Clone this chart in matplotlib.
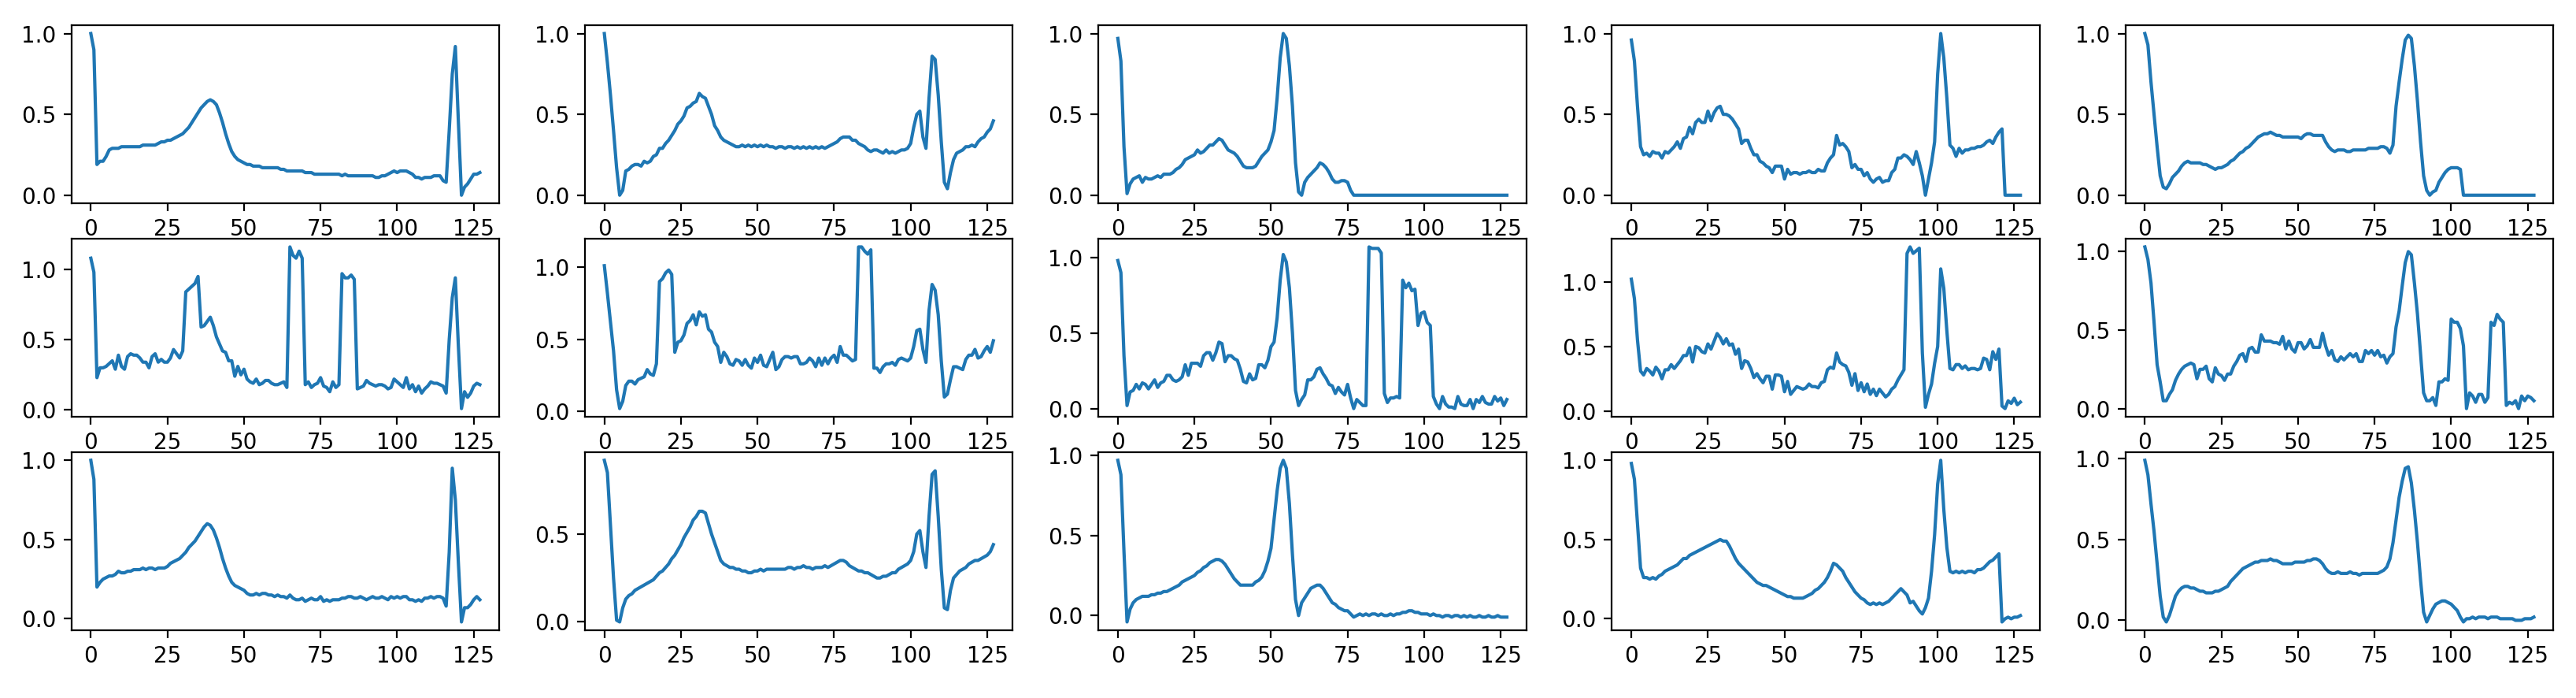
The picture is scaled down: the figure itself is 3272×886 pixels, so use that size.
import matplotlib
matplotlib.use("Agg")
import matplotlib.pyplot as plt
import numpy as np

# row 1: original beats
orig_a = [1.00, 0.90, 0.19, 0.21, 0.21, 0.24, 0.28, 0.29, 0.29, 0.29, 0.30, 0.30, 0.30, 0.30, 0.30, 0.30,
          0.30, 0.31, 0.31, 0.31, 0.31, 0.31, 0.32, 0.33, 0.33, 0.34, 0.34, 0.35, 0.36, 0.37, 0.38, 0.40,
          0.42, 0.45, 0.48, 0.51, 0.54, 0.56, 0.58, 0.59, 0.58, 0.56, 0.51, 0.45, 0.38, 0.32, 0.27, 0.24,
          0.22, 0.21, 0.20, 0.19, 0.19, 0.18, 0.18, 0.18, 0.17, 0.17, 0.17, 0.17, 0.17, 0.17, 0.16, 0.16,
          0.15, 0.15, 0.15, 0.15, 0.15, 0.15, 0.14, 0.14, 0.14, 0.13, 0.13, 0.13, 0.13, 0.13, 0.13, 0.13,
          0.13, 0.13, 0.12, 0.13, 0.12, 0.12, 0.12, 0.12, 0.12, 0.12, 0.12, 0.12, 0.12, 0.11, 0.11, 0.12,
          0.12, 0.13, 0.14, 0.15, 0.14, 0.15, 0.15, 0.15, 0.14, 0.13, 0.11, 0.11, 0.10, 0.11, 0.11, 0.11,
          0.12, 0.12, 0.12, 0.09, 0.08, 0.40, 0.75, 0.92, 0.45, 0.00, 0.05, 0.07, 0.10, 0.13, 0.13, 0.14]
orig_b = [1.00, 0.82, 0.62, 0.40, 0.17, 0.00, 0.03, 0.15, 0.16, 0.18, 0.19, 0.19, 0.18, 0.21, 0.20, 0.21,
          0.24, 0.25, 0.29, 0.29, 0.32, 0.34, 0.37, 0.40, 0.44, 0.46, 0.49, 0.54, 0.55, 0.57, 0.58, 0.63,
          0.61, 0.60, 0.55, 0.50, 0.43, 0.40, 0.36, 0.34, 0.33, 0.32, 0.31, 0.30, 0.30, 0.31, 0.30, 0.31,
          0.30, 0.31, 0.30, 0.31, 0.30, 0.31, 0.30, 0.30, 0.29, 0.30, 0.30, 0.29, 0.30, 0.30, 0.29, 0.30,
          0.29, 0.30, 0.29, 0.30, 0.29, 0.30, 0.29, 0.30, 0.29, 0.30, 0.31, 0.32, 0.33, 0.35, 0.36, 0.36,
          0.36, 0.34, 0.34, 0.32, 0.31, 0.30, 0.28, 0.27, 0.28, 0.28, 0.27, 0.26, 0.28, 0.26, 0.27, 0.26,
          0.27, 0.28, 0.28, 0.29, 0.32, 0.42, 0.50, 0.52, 0.36, 0.29, 0.60, 0.86, 0.84, 0.62, 0.33, 0.08,
          0.04, 0.14, 0.22, 0.26, 0.27, 0.28, 0.30, 0.30, 0.31, 0.30, 0.33, 0.35, 0.36, 0.39, 0.41, 0.46]
orig_c = [0.97, 0.83, 0.30, 0.01, 0.07, 0.10, 0.11, 0.12, 0.08, 0.11, 0.10, 0.10, 0.11, 0.12, 0.11, 0.13,
          0.13, 0.13, 0.14, 0.16, 0.17, 0.19, 0.22, 0.23, 0.24, 0.25, 0.28, 0.26, 0.27, 0.29, 0.31, 0.31,
          0.33, 0.35, 0.34, 0.31, 0.28, 0.27, 0.26, 0.24, 0.21, 0.18, 0.17, 0.17, 0.17, 0.18, 0.21, 0.24,
          0.26, 0.28, 0.33, 0.40, 0.60, 0.85, 1.00, 0.97, 0.80, 0.55, 0.20, 0.02, 0.00, 0.08, 0.11, 0.13,
          0.15, 0.17, 0.20, 0.19, 0.17, 0.14, 0.10, 0.08, 0.08, 0.09, 0.09, 0.08, 0.03, 0.00, 0.00, 0.00,
          0.00, 0.00, 0.00, 0.00, 0.00, 0.00, 0.00, 0.00, 0.00, 0.00, 0.00, 0.00, 0.00, 0.00, 0.00, 0.00,
          0.00, 0.00, 0.00, 0.00, 0.00, 0.00, 0.00, 0.00, 0.00, 0.00, 0.00, 0.00, 0.00, 0.00, 0.00, 0.00,
          0.00, 0.00, 0.00, 0.00, 0.00, 0.00, 0.00, 0.00, 0.00, 0.00, 0.00, 0.00, 0.00, 0.00, 0.00, 0.00]
orig_d = [0.96, 0.83, 0.55, 0.30, 0.25, 0.26, 0.24, 0.27, 0.26, 0.26, 0.23, 0.27, 0.26, 0.28, 0.30, 0.33,
          0.29, 0.35, 0.36, 0.42, 0.38, 0.45, 0.47, 0.45, 0.45, 0.52, 0.46, 0.51, 0.54, 0.55, 0.50, 0.50,
          0.49, 0.47, 0.44, 0.41, 0.32, 0.34, 0.34, 0.29, 0.25, 0.25, 0.21, 0.20, 0.18, 0.17, 0.14, 0.18,
          0.18, 0.18, 0.10, 0.16, 0.13, 0.14, 0.14, 0.13, 0.14, 0.14, 0.15, 0.14, 0.14, 0.16, 0.15, 0.15,
          0.20, 0.23, 0.25, 0.37, 0.31, 0.32, 0.30, 0.27, 0.17, 0.19, 0.16, 0.16, 0.12, 0.14, 0.10, 0.08,
          0.10, 0.11, 0.08, 0.09, 0.09, 0.14, 0.16, 0.23, 0.23, 0.25, 0.24, 0.22, 0.19, 0.27, 0.20, 0.12,
          0.00, 0.10, 0.20, 0.33, 0.75, 1.00, 0.85, 0.60, 0.31, 0.29, 0.24, 0.29, 0.26, 0.28, 0.28, 0.29,
          0.29, 0.30, 0.30, 0.31, 0.33, 0.34, 0.32, 0.36, 0.39, 0.41, 0.00, 0.00, 0.00, 0.00, 0.00, 0.00]
orig_e = [1.00, 0.93, 0.70, 0.50, 0.30, 0.12, 0.05, 0.04, 0.07, 0.11, 0.13, 0.15, 0.18, 0.20, 0.21, 0.20,
          0.20, 0.20, 0.20, 0.19, 0.19, 0.18, 0.17, 0.16, 0.17, 0.17, 0.18, 0.19, 0.21, 0.22, 0.24, 0.26,
          0.27, 0.29, 0.30, 0.32, 0.34, 0.36, 0.37, 0.38, 0.38, 0.39, 0.38, 0.37, 0.37, 0.36, 0.36, 0.36,
          0.36, 0.36, 0.36, 0.35, 0.37, 0.38, 0.38, 0.37, 0.37, 0.37, 0.37, 0.33, 0.30, 0.28, 0.27, 0.28,
          0.28, 0.28, 0.27, 0.27, 0.28, 0.28, 0.28, 0.28, 0.28, 0.29, 0.29, 0.29, 0.29, 0.30, 0.30, 0.29,
          0.26, 0.31, 0.55, 0.70, 0.84, 0.96, 0.99, 0.97, 0.80, 0.58, 0.33, 0.12, 0.03, 0.00, 0.02, 0.03,
          0.08, 0.11, 0.14, 0.16, 0.17, 0.17, 0.17, 0.16, 0.00, 0.00, 0.00, 0.00, 0.00, 0.00, 0.00, 0.00,
          0.00, 0.00, 0.00, 0.00, 0.00, 0.00, 0.00, 0.00, 0.00, 0.00, 0.00, 0.00, 0.00, 0.00, 0.00, 0.00]

# row 2: noisy / augmented beats
noisy_a = [1.08, 0.98, 0.23, 0.30, 0.30, 0.31, 0.33, 0.35, 0.29, 0.39, 0.31, 0.29, 0.38, 0.40, 0.39, 0.39,
           0.37, 0.34, 0.34, 0.30, 0.38, 0.40, 0.34, 0.36, 0.34, 0.34, 0.37, 0.43, 0.40, 0.37, 0.42, 0.84,
           0.86, 0.88, 0.90, 0.95, 0.59, 0.60, 0.63, 0.66, 0.60, 0.52, 0.47, 0.42, 0.41, 0.35, 0.35, 0.24,
           0.31, 0.25, 0.29, 0.22, 0.20, 0.19, 0.22, 0.18, 0.19, 0.21, 0.21, 0.19, 0.18, 0.18, 0.19, 0.20,
           0.16, 1.16, 1.10, 1.08, 1.13, 1.08, 0.18, 0.20, 0.16, 0.18, 0.19, 0.23, 0.17, 0.16, 0.13, 0.20,
           0.16, 0.18, 0.97, 0.94, 0.94, 0.96, 0.93, 0.15, 0.16, 0.17, 0.21, 0.19, 0.18, 0.17, 0.18, 0.18,
           0.17, 0.15, 0.16, 0.22, 0.20, 0.18, 0.16, 0.23, 0.15, 0.18, 0.13, 0.17, 0.12, 0.15, 0.17, 0.20,
           0.19, 0.19, 0.18, 0.17, 0.12, 0.50, 0.80, 0.94, 0.45, 0.01, 0.13, 0.09, 0.12, 0.17, 0.19, 0.18]
noisy_b = [1.01, 0.82, 0.62, 0.42, 0.15, 0.02, 0.07, 0.18, 0.21, 0.21, 0.19, 0.22, 0.23, 0.24, 0.29, 0.26,
           0.25, 0.33, 0.90, 0.92, 0.96, 0.98, 0.95, 0.41, 0.48, 0.49, 0.53, 0.61, 0.63, 0.67, 0.60, 0.69,
           0.66, 0.67, 0.57, 0.55, 0.48, 0.45, 0.34, 0.41, 0.38, 0.33, 0.32, 0.36, 0.35, 0.32, 0.36, 0.32,
           0.30, 0.37, 0.34, 0.39, 0.32, 0.31, 0.36, 0.41, 0.29, 0.31, 0.36, 0.38, 0.38, 0.37, 0.38, 0.38,
           0.33, 0.33, 0.34, 0.37, 0.35, 0.31, 0.37, 0.32, 0.37, 0.33, 0.37, 0.39, 0.34, 0.45, 0.39, 0.39,
           0.37, 0.35, 0.36, 1.14, 1.14, 1.11, 1.09, 1.12, 0.30, 0.30, 0.27, 0.31, 0.33, 0.33, 0.34, 0.32,
           0.36, 0.37, 0.36, 0.35, 0.37, 0.45, 0.56, 0.57, 0.43, 0.34, 0.70, 0.88, 0.84, 0.67, 0.35, 0.10,
           0.12, 0.22, 0.31, 0.31, 0.30, 0.29, 0.36, 0.39, 0.39, 0.43, 0.37, 0.38, 0.42, 0.45, 0.41, 0.49]
noisy_c = [0.98, 0.90, 0.35, 0.02, 0.11, 0.12, 0.16, 0.13, 0.17, 0.16, 0.13, 0.16, 0.19, 0.14, 0.17, 0.18,
           0.22, 0.22, 0.19, 0.18, 0.19, 0.21, 0.29, 0.22, 0.30, 0.30, 0.30, 0.28, 0.35, 0.37, 0.37, 0.32,
           0.37, 0.44, 0.43, 0.31, 0.35, 0.35, 0.33, 0.32, 0.26, 0.18, 0.17, 0.23, 0.19, 0.20, 0.29, 0.29,
           0.27, 0.32, 0.41, 0.44, 0.60, 0.85, 1.02, 0.97, 0.80, 0.50, 0.12, 0.02, 0.06, 0.09, 0.19, 0.19,
           0.21, 0.26, 0.27, 0.23, 0.20, 0.16, 0.15, 0.10, 0.14, 0.11, 0.09, 0.16, 0.07, 0.00, 0.06, 0.04,
           0.02, 0.02, 1.07, 1.06, 1.06, 1.06, 1.03, 0.10, 0.04, 0.07, 0.07, 0.08, 0.07, 0.85, 0.80, 0.83,
           0.78, 0.79, 0.55, 0.63, 0.64, 0.57, 0.55, 0.08, 0.03, 0.00, 0.08, 0.03, 0.01, 0.01, 0.00, 0.08,
           0.03, 0.02, 0.02, 0.06, 0.00, 0.06, 0.04, 0.08, 0.04, 0.03, 0.03, 0.08, 0.05, 0.07, 0.02, 0.06]
noisy_d = [1.02, 0.87, 0.55, 0.31, 0.28, 0.33, 0.31, 0.28, 0.34, 0.31, 0.25, 0.32, 0.32, 0.36, 0.33, 0.36,
           0.39, 0.43, 0.43, 0.49, 0.38, 0.50, 0.49, 0.46, 0.45, 0.52, 0.48, 0.54, 0.60, 0.57, 0.52, 0.56,
           0.51, 0.52, 0.44, 0.48, 0.33, 0.39, 0.38, 0.33, 0.26, 0.29, 0.25, 0.22, 0.27, 0.27, 0.17, 0.28,
           0.28, 0.27, 0.15, 0.23, 0.13, 0.16, 0.19, 0.18, 0.17, 0.18, 0.21, 0.19, 0.19, 0.18, 0.22, 0.23,
           0.32, 0.34, 0.33, 0.45, 0.38, 0.36, 0.35, 0.30, 0.20, 0.29, 0.16, 0.22, 0.15, 0.21, 0.13, 0.17,
           0.12, 0.17, 0.14, 0.11, 0.13, 0.17, 0.19, 0.24, 0.28, 0.32, 1.22, 1.27, 1.22, 1.24, 1.26, 0.45,
           0.03, 0.13, 0.21, 0.37, 0.50, 1.10, 0.95, 0.62, 0.33, 0.32, 0.36, 0.36, 0.33, 0.35, 0.32, 0.33,
           0.33, 0.32, 0.33, 0.41, 0.40, 0.32, 0.46, 0.40, 0.48, 0.04, 0.02, 0.08, 0.06, 0.10, 0.05, 0.07]
noisy_e = [1.03, 0.95, 0.80, 0.55, 0.28, 0.17, 0.05, 0.05, 0.09, 0.12, 0.18, 0.22, 0.25, 0.27, 0.28, 0.29,
           0.28, 0.19, 0.25, 0.25, 0.27, 0.19, 0.17, 0.26, 0.22, 0.21, 0.18, 0.22, 0.22, 0.27, 0.30, 0.34,
           0.35, 0.30, 0.38, 0.39, 0.36, 0.36, 0.47, 0.43, 0.43, 0.43, 0.42, 0.42, 0.41, 0.46, 0.38, 0.43,
           0.38, 0.36, 0.42, 0.42, 0.38, 0.40, 0.44, 0.39, 0.39, 0.39, 0.48, 0.40, 0.34, 0.37, 0.31, 0.30,
           0.33, 0.31, 0.33, 0.35, 0.33, 0.35, 0.30, 0.30, 0.37, 0.35, 0.37, 0.34, 0.37, 0.33, 0.34, 0.29,
           0.33, 0.35, 0.52, 0.62, 0.78, 0.93, 1.00, 0.98, 0.80, 0.60, 0.35, 0.10, 0.05, 0.05, 0.07, 0.02,
           0.17, 0.17, 0.19, 0.18, 0.57, 0.55, 0.55, 0.51, 0.40, 0.00, 0.10, 0.08, 0.04, 0.09, 0.09, 0.04,
           0.07, 0.55, 0.53, 0.60, 0.57, 0.55, 0.02, 0.04, 0.03, 0.05, 0.00, 0.08, 0.05, 0.08, 0.07, 0.05]

# row 3: reconstructed beats
recon_a = [1.00, 0.88, 0.20, 0.23, 0.25, 0.26, 0.27, 0.27, 0.28, 0.30, 0.29, 0.29, 0.30, 0.30, 0.31, 0.31,
           0.31, 0.32, 0.31, 0.32, 0.32, 0.31, 0.32, 0.32, 0.32, 0.33, 0.35, 0.36, 0.37, 0.38, 0.40, 0.42,
           0.45, 0.47, 0.49, 0.52, 0.55, 0.58, 0.60, 0.59, 0.56, 0.51, 0.45, 0.38, 0.32, 0.27, 0.23, 0.21,
           0.20, 0.19, 0.18, 0.16, 0.15, 0.15, 0.16, 0.15, 0.16, 0.16, 0.15, 0.15, 0.14, 0.15, 0.14, 0.14,
           0.13, 0.15, 0.13, 0.12, 0.12, 0.13, 0.11, 0.12, 0.13, 0.12, 0.12, 0.14, 0.11, 0.12, 0.11, 0.12,
           0.12, 0.12, 0.13, 0.13, 0.14, 0.14, 0.13, 0.13, 0.14, 0.13, 0.12, 0.13, 0.14, 0.13, 0.13, 0.14,
           0.13, 0.12, 0.14, 0.13, 0.14, 0.13, 0.14, 0.14, 0.12, 0.12, 0.11, 0.12, 0.11, 0.13, 0.13, 0.14,
           0.13, 0.14, 0.14, 0.13, 0.08, 0.42, 0.95, 0.75, 0.35, -0.02, 0.07, 0.07, 0.09, 0.12, 0.14, 0.12]
recon_b = [0.92, 0.85, 0.55, 0.25, 0.01, 0.00, 0.08, 0.13, 0.15, 0.16, 0.18, 0.19, 0.20, 0.21, 0.22, 0.23,
           0.24, 0.26, 0.28, 0.29, 0.31, 0.33, 0.36, 0.38, 0.41, 0.44, 0.48, 0.51, 0.54, 0.58, 0.60, 0.63,
           0.63, 0.62, 0.56, 0.50, 0.45, 0.40, 0.35, 0.33, 0.32, 0.31, 0.31, 0.30, 0.30, 0.29, 0.29, 0.28,
           0.28, 0.29, 0.29, 0.30, 0.29, 0.30, 0.30, 0.30, 0.30, 0.30, 0.30, 0.30, 0.31, 0.31, 0.30, 0.31,
           0.31, 0.32, 0.31, 0.31, 0.30, 0.31, 0.31, 0.31, 0.32, 0.31, 0.32, 0.33, 0.34, 0.35, 0.35, 0.34,
           0.32, 0.31, 0.30, 0.29, 0.29, 0.28, 0.28, 0.27, 0.26, 0.25, 0.25, 0.26, 0.26, 0.27, 0.28, 0.28,
           0.30, 0.31, 0.32, 0.33, 0.35, 0.40, 0.50, 0.52, 0.40, 0.31, 0.60, 0.84, 0.86, 0.60, 0.30, 0.08,
           0.07, 0.18, 0.25, 0.27, 0.29, 0.30, 0.31, 0.33, 0.34, 0.35, 0.35, 0.36, 0.37, 0.38, 0.40, 0.44]
recon_c = [0.97, 0.88, 0.40, -0.04, 0.04, 0.08, 0.10, 0.11, 0.12, 0.12, 0.12, 0.13, 0.13, 0.14, 0.14, 0.15,
           0.15, 0.16, 0.17, 0.18, 0.19, 0.21, 0.22, 0.23, 0.24, 0.25, 0.27, 0.28, 0.30, 0.31, 0.33, 0.34,
           0.35, 0.35, 0.34, 0.32, 0.29, 0.26, 0.23, 0.21, 0.19, 0.19, 0.19, 0.19, 0.19, 0.21, 0.22, 0.24,
           0.28, 0.34, 0.42, 0.60, 0.78, 0.92, 0.97, 0.92, 0.70, 0.38, 0.10, 0.00, 0.08, 0.11, 0.14, 0.17,
           0.18, 0.19, 0.19, 0.17, 0.14, 0.11, 0.08, 0.07, 0.05, 0.04, 0.03, 0.03, 0.01, -0.01, 0.00, 0.01,
           0.00, 0.01, 0.00, 0.01, 0.01, 0.00, 0.01, 0.00, 0.00, 0.01, 0.00, 0.01, 0.01, 0.02, 0.02, 0.03,
           0.03, 0.02, 0.02, 0.01, 0.01, 0.01, 0.00, 0.01, 0.00, 0.00, -0.01, 0.00, 0.00, -0.01, 0.00, 0.00,
           -0.01, 0.00, -0.01, 0.00, -0.01, -0.01, 0.00, -0.01, -0.01, 0.00, -0.01, -0.01, 0.00, -0.01, -0.01, -0.01]
recon_d = [0.98, 0.88, 0.60, 0.32, 0.26, 0.26, 0.25, 0.26, 0.25, 0.27, 0.28, 0.30, 0.31, 0.32, 0.33, 0.34,
           0.36, 0.38, 0.38, 0.40, 0.41, 0.42, 0.43, 0.44, 0.45, 0.46, 0.47, 0.48, 0.49, 0.50, 0.49, 0.49,
           0.46, 0.42, 0.38, 0.35, 0.33, 0.31, 0.29, 0.27, 0.25, 0.23, 0.22, 0.21, 0.21, 0.20, 0.19, 0.18,
           0.17, 0.16, 0.15, 0.14, 0.14, 0.13, 0.13, 0.13, 0.13, 0.14, 0.15, 0.16, 0.18, 0.19, 0.21, 0.23,
           0.26, 0.30, 0.35, 0.34, 0.32, 0.30, 0.26, 0.23, 0.20, 0.17, 0.15, 0.13, 0.12, 0.10, 0.09, 0.10,
           0.09, 0.10, 0.09, 0.10, 0.11, 0.13, 0.15, 0.17, 0.19, 0.17, 0.15, 0.10, 0.11, 0.08, 0.05, 0.03,
           0.07, 0.13, 0.30, 0.53, 0.85, 1.00, 0.69, 0.45, 0.30, 0.29, 0.30, 0.29, 0.30, 0.29, 0.30, 0.30,
           0.29, 0.31, 0.31, 0.32, 0.34, 0.36, 0.37, 0.39, 0.41, -0.02, 0.00, 0.01, 0.00, 0.01, 0.01, 0.02]
recon_e = [0.99, 0.90, 0.72, 0.55, 0.35, 0.15, 0.02, -0.01, 0.03, 0.09, 0.15, 0.18, 0.20, 0.21, 0.21, 0.20,
           0.20, 0.19, 0.18, 0.18, 0.17, 0.17, 0.17, 0.18, 0.18, 0.19, 0.20, 0.21, 0.24, 0.26, 0.28, 0.30,
           0.32, 0.33, 0.34, 0.35, 0.36, 0.36, 0.37, 0.37, 0.37, 0.38, 0.37, 0.37, 0.36, 0.35, 0.35, 0.35,
           0.35, 0.36, 0.36, 0.36, 0.36, 0.37, 0.37, 0.38, 0.38, 0.37, 0.35, 0.32, 0.30, 0.29, 0.29, 0.30,
           0.29, 0.29, 0.29, 0.30, 0.29, 0.29, 0.28, 0.29, 0.29, 0.29, 0.29, 0.29, 0.29, 0.30, 0.31, 0.33,
           0.38, 0.48, 0.62, 0.76, 0.86, 0.94, 0.95, 0.85, 0.68, 0.48, 0.25, 0.05, -0.01, 0.03, 0.07, 0.10,
           0.11, 0.12, 0.12, 0.11, 0.10, 0.08, 0.06, 0.02, -0.01, 0.01, 0.01, 0.02, 0.01, 0.02, 0.02, 0.02,
           0.01, 0.02, 0.02, 0.02, 0.01, 0.01, 0.01, 0.01, 0.01, 0.00, 0.00, 0.00, 0.01, 0.01, 0.01, 0.02]

rows = [
    [orig_a, orig_b, orig_c, orig_d, orig_e],
    [noisy_a, noisy_b, noisy_c, noisy_d, noisy_e],
    [recon_a, recon_b, recon_c, recon_d, recon_e],
]

fig, axes = plt.subplots(3, 5, figsize=(3273 / 200, 886 / 200))
fig.subplots_adjust(left=0.0277, right=0.9909, top=0.9635, bottom=0.0974,
                    wspace=0.2, hspace=0.2)

for i, row in enumerate(rows):
    for j, sig in enumerate(row):
        axes[i, j].plot(np.arange(len(sig)), sig)

fig.savefig("out.png", dpi=200)
